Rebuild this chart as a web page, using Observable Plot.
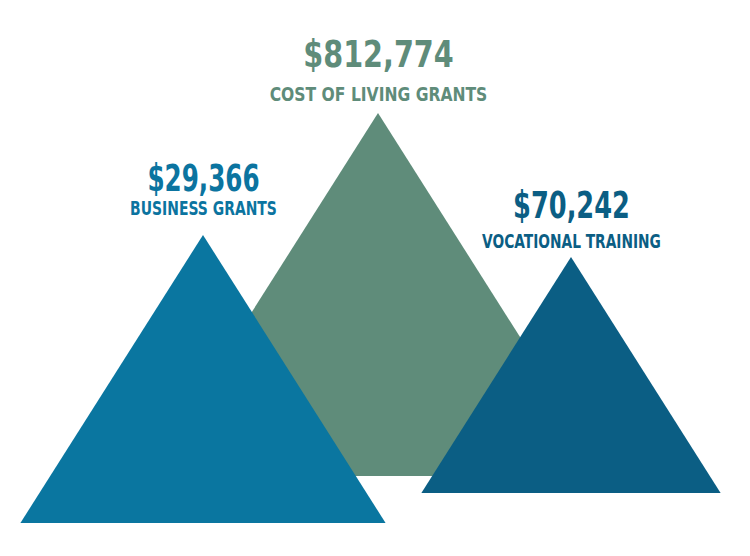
<!DOCTYPE html>
<html>
<head>
<meta charset="utf-8">
<script src="https://cdn.jsdelivr.net/npm/d3@7"></script>
<script src="https://cdn.jsdelivr.net/npm/@observablehq/plot@0.6"></script>
<style>
  html, body { margin: 0; padding: 0; background: #ffffff; }
  #chart svg { display: block; }
</style>
</head>
<body>
<div id="chart"></div>
<script>
// Data (drawing order: back to front)
const categories = ["COST OF LIVING GRANTS", "BUSINESS GRANTS", "VOCATIONAL TRAINING"];
const values = [812774, 29366, 70242];
const valueLabels = ["$812,774", "$29,366", "$70,242"];
// Illustrative peak geometry (chart units; not proportional to values in the original)
const peakCenter = [378, 203, 571];
const peakBase = [80, 33, 63];
const peakHeight = [363, 288, 236];
// Label anchor heights (chart units)
const valueY = [490, 366, 339];
const nameY = [456, 342, 309];
const colors = ["#5f8c7a", "#0a76a0", "#0b5e84"];
const textColors = ["#5f8c7a", "#0b74a0", "#0b5e84"];

const slope = 0.634; // half-width / height of each peak

const peaks = categories.map((c, i) => ({
  name: c, value: values[i], label: valueLabels[i],
  cx: peakCenter[i], base: peakBase[i], top: peakBase[i] + peakHeight[i],
  vy: valueY[i], ny: nameY[i],
  color: colors[i], tcolor: textColors[i]
}));
const outline = peaks.flatMap(p => {
  const hw = slope * (p.top - p.base);
  return [
    {name: p.name, x: p.cx - hw, y: p.base, base: p.base, color: p.color},
    {name: p.name, x: p.cx, y: p.top, base: p.base, color: p.color},
    {name: p.name, x: p.cx + hw, y: p.base, base: p.base, color: p.color}
  ];
});

const font = "'DejaVu Sans Condensed', 'DejaVu Sans', sans-serif";

const chart = Plot.plot({
  width: 750,
  height: 556,
  margin: 0,
  x: {domain: [0, 750], axis: null},
  y: {domain: [0, 556], axis: null},
  color: {type: "identity"},
  marks: [
    Plot.areaY(outline, {x: "x", y1: "base", y2: "y", z: "name", fill: "color", curve: "linear"}),
    Plot.text(peaks, {x: "cx", y: "vy", text: "label", fill: "tcolor", lineAnchor: "bottom",
      fontSize: 37, fontWeight: "bold", fontFamily: font, textAnchor: "middle", className: "val"}),
    Plot.text(peaks, {x: "cx", y: "ny", text: "name", fill: "tcolor", lineAnchor: "bottom",
      fontSize: 20, fontWeight: "bold", fontFamily: font, textAnchor: "middle", className: "nm"})
  ]
});
document.getElementById("chart").append(chart);

// Condense glyphs horizontally to mimic the original's condensed display face
function condense(sel, factors) {
  d3.select(chart).selectAll(sel).each(function (d, i) {
    const w = this.getComputedTextLength();
    this.setAttribute("textLength", (w * factors[i]).toFixed(1));
    this.setAttribute("lengthAdjust", "spacingAndGlyphs");
  });
}
condense(".val text", [0.86, 0.74, 0.77]);
condense(".nm text", [0.865, 0.775, 0.765]);
</script>
</body>
</html>
